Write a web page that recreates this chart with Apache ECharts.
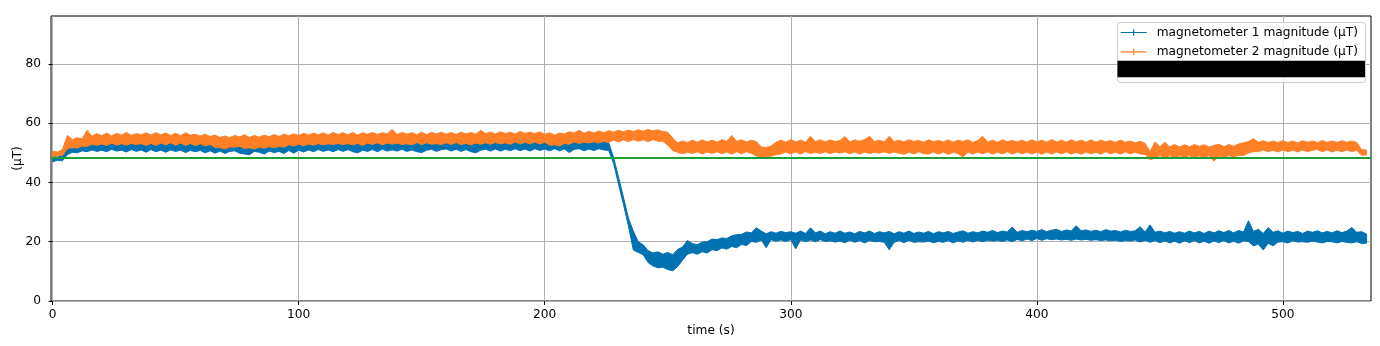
<!DOCTYPE html>
<html>
<head>
<meta charset="utf-8">
<script src="https://cdn.jsdelivr.net/npm/echarts@6/dist/echarts.min.js"></script>
<style>
html,body{margin:0;padding:0;background:#fff;}
#chart{width:1380px;height:346px;}
</style>
</head>
<body>
<div id="chart"></div>
<script>
// ---- data: noise envelopes (upper / lower) of each magnitude trace, every 2 s ----
const timeS = [
0,2,4,6,8,10,12,14,16,18,20,22,24,26,28,30,32,34,36,38,
40,42,44,46,48,50,52,54,56,58,60,62,64,66,68,70,72,74,76,78,
80,82,84,86,88,90,92,94,96,98,100,102,104,106,108,110,112,114,116,118,
120,122,124,126,128,130,132,134,136,138,140,142,144,146,148,150,152,154,156,158,
160,162,164,166,168,170,172,174,176,178,180,182,184,186,188,190,192,194,196,198,
200,202,204,206,208,210,212,214,216,218,220,222,224,226,228,230,232,234,236,238,
240,242,244,246,248,250,252,254,256,258,260,262,264,266,268,270,272,274,276,278,
280,282,284,286,288,290,292,294,296,298,300,302,304,306,308,310,312,314,316,318,
320,322,324,326,328,330,332,334,336,338,340,342,344,346,348,350,352,354,356,358,
360,362,364,366,368,370,372,374,376,378,380,382,384,386,388,390,392,394,396,398,
400,402,404,406,408,410,412,414,416,418,420,422,424,426,428,430,432,434,436,438,
440,442,444,446,448,450,452,454,456,458,460,462,464,466,468,470,472,474,476,478,
480,482,484,486,488,490,492,494,496,498,500,502,504,506,508,510,512,514,516,518,
520,522,524,526,528,530,532,534
];

const mag1High = [
48.9,48.6,49.4,51.6,51.4,52.5,52.2,53.2,53.0,53.8,
53.1,53.9,53.2,53.7,53.0,54.0,53.4,53.1,53.9,53.5,
53.8,53.1,53.6,53.0,53.9,53.3,53.7,52.9,53.5,53.2,
53.4,52.8,53.5,52.7,53.3,52.9,53.6,52.8,53.2,53.5,
52.7,53.4,52.9,53.5,53.0,53.6,52.8,53.7,53.2,53.8,
53.1,53.9,53.3,53.7,54.0,53.2,53.8,53.4,54.1,53.3,
53.9,53.2,54.0,53.4,53.7,54.1,53.3,53.9,53.5,54.2,
53.4,54.1,53.5,53.9,53.3,54.0,53.6,54.2,53.4,53.9,
53.6,54.2,53.4,54.0,53.7,54.1,53.5,54.2,53.8,53.4,
54.2,53.6,54.3,53.8,54.1,53.5,54.4,53.9,54.2,53.7,
54.5,53.8,54.3,53.7,54.2,53.6,54.3,53.9,54.4,53.8,
54.1,53.7,54.2,53.4,48.4,41.8,35.0,28.0,23.6,20.0,
19.0,17.0,16.2,16.6,15.8,16.4,15.6,17.4,18.2,20.4,
19.4,19.0,19.9,20.0,20.9,20.7,21.3,21.1,22.0,22.4,
22.5,23.3,23.0,24.7,23.6,22.7,23.4,22.9,23.5,23.1,
23.4,22.9,23.6,22.8,24.7,23.0,23.6,22.7,23.4,22.9,
23.6,22.9,23.3,22.7,23.5,23.0,23.6,22.8,23.4,23.0,
23.5,22.7,23.4,22.9,23.6,22.8,23.3,22.9,23.5,22.7,
23.4,23.0,23.5,22.8,23.3,23.7,22.9,23.4,23.0,23.6,
23.2,23.8,23.1,23.6,23.3,25.0,23.2,23.8,23.4,23.9,
23.5,24.1,23.4,23.9,24.2,23.5,24.0,23.6,25.4,23.7,
24.0,23.5,23.9,23.4,24.1,23.6,23.8,23.3,23.9,23.5,
23.7,25.1,23.3,25.7,23.2,23.6,23.0,23.5,22.9,23.4,
22.9,23.6,23.0,23.5,22.8,23.6,23.0,23.7,23.1,23.8,
23.0,23.8,23.3,27.1,23.5,24.2,22.8,24.8,23.2,23.7,
22.9,23.6,23.1,23.5,22.8,23.6,23.2,23.7,23.0,23.5,
23.0,23.7,23.1,23.6,24.8,23.2,23.4,22.6
];
const mag1Low = [
47.0,47.5,47.3,49.4,50.2,50.0,50.7,50.4,51.0,50.5,
50.9,50.4,51.2,50.6,50.9,50.3,51.1,50.5,51.0,50.2,
51.1,50.4,50.9,50.2,51.0,50.5,50.9,50.1,50.8,50.4,
50.8,50.0,50.7,49.9,50.6,49.8,50.5,50.7,49.9,49.6,
49.4,50.5,50.2,49.6,50.6,50.1,50.5,49.8,50.8,49.9,
50.9,50.3,51.0,50.4,51.1,50.5,51.0,50.4,51.1,50.5,
51.1,50.4,50.0,50.9,50.5,51.1,50.4,51.2,50.6,51.0,
50.6,51.2,50.5,51.0,50.4,50.1,50.9,51.2,50.5,51.1,
51.3,50.6,51.2,50.5,51.1,50.4,50.0,50.9,51.2,50.6,
51.3,50.6,51.2,50.7,51.4,50.7,51.3,50.6,51.4,50.8,
51.3,50.7,51.4,50.7,51.3,50.1,51.2,51.4,50.7,51.3,
50.8,51.4,51.0,50.8,46.4,39.4,32.6,25.4,17.2,16.4,
15.6,13.0,11.8,11.2,11.4,10.6,10.2,11.6,13.8,15.8,
16.3,15.8,16.6,16.2,17.3,17.0,17.9,17.5,18.4,18.0,
19.1,18.7,20.1,19.8,20.6,18.0,20.7,20.2,20.6,20.1,
20.7,17.6,20.6,20.0,20.6,20.0,20.7,20.1,20.3,19.9,
20.2,19.7,20.5,19.8,20.4,19.6,20.4,20.0,20.1,19.8,
17.3,19.8,20.4,19.7,20.5,19.8,20.0,19.9,20.2,19.7,
20.1,19.8,20.4,19.6,20.3,19.8,20.5,19.9,20.5,20.0,
20.5,20.2,20.4,20.1,20.6,20.0,20.8,20.3,20.9,20.4,
21.1,20.5,21.0,20.7,20.9,20.6,20.8,20.5,20.9,20.6,
20.8,20.5,20.7,20.4,20.6,20.3,20.5,20.1,20.4,20.2,
20.6,19.9,20.5,19.8,20.4,19.7,20.3,19.6,20.2,19.5,
20.3,19.7,20.4,19.6,20.2,19.5,20.3,19.7,20.4,19.6,
20.2,19.5,20.3,20.1,18.6,19.2,17.2,19.5,18.6,19.9,
20.0,19.6,20.3,19.9,20.0,19.8,20.2,19.9,19.6,20.1,
20.0,19.6,20.1,19.8,19.6,20.0,19.4,19.5
];

const mag2High = [
50.5,50.3,51.1,55.9,54.5,55.1,54.7,57.6,55.6,56.5,
55.8,56.7,55.7,56.6,56.0,56.9,55.9,56.5,56.1,56.8,
56.0,56.8,56.1,56.7,55.9,56.6,55.8,56.8,56.0,56.3,
55.7,56.3,55.5,56.0,55.2,55.7,55.1,55.9,55.4,56.1,
55.2,55.9,55.3,56.0,55.4,56.2,55.5,56.3,55.8,56.4,
55.9,56.6,56.0,56.7,56.1,56.8,56.0,56.9,56.2,56.8,
56.1,56.9,56.0,56.8,56.3,56.9,56.2,56.8,56.4,57.9,
56.2,56.9,56.3,56.8,56.1,57.0,56.2,56.9,56.4,57.0,
56.3,56.9,56.2,57.0,56.4,56.9,56.3,57.6,56.5,57.0,
56.4,57.1,56.5,57.0,56.4,57.2,56.6,57.0,56.5,57.1,
56.3,56.8,56.0,56.7,56.4,57.1,56.7,57.6,56.6,57.3,
56.7,57.4,56.8,57.5,57.0,57.6,57.1,57.7,57.2,57.8,
57.3,57.9,57.4,57.8,57.2,57.0,55.0,53.4,54.0,53.5,
54.3,53.6,54.4,53.7,54.3,53.6,54.5,53.8,55.9,53.9,
54.4,53.7,54.3,53.8,52.0,51.8,52.3,53.6,54.3,53.6,
54.5,53.7,54.3,53.6,55.6,53.8,54.4,53.7,54.4,53.8,
54.2,55.5,53.7,54.4,53.9,54.5,55.6,53.8,54.3,53.7,
55.6,53.8,54.3,53.7,54.4,53.9,54.2,53.6,54.4,53.8,
54.2,53.7,54.4,53.6,54.3,53.8,54.4,53.5,54.2,55.6,
53.6,54.3,53.6,54.4,53.8,54.2,53.7,54.3,53.6,54.4,
53.7,54.3,53.6,54.5,53.7,54.3,53.6,54.4,53.7,54.3,
53.6,54.4,53.6,54.3,53.7,54.2,53.5,54.3,53.6,54.0,
53.4,53.9,53.2,50.4,53.7,52.0,53.6,52.0,52.8,52.0,
52.7,52.1,52.8,52.2,52.7,52.0,52.5,52.9,52.1,52.8,
52.2,53.0,53.4,53.8,54.8,53.6,54.1,53.5,54.0,53.5,
54.1,53.5,54.0,53.4,54.1,53.6,54.0,53.5,54.1,53.6,
54.0,53.5,54.1,53.6,54.0,53.5,51.1,50.9
];
const mag2Low = [
48.7,49.2,49.1,51.4,51.9,51.6,52.3,52.2,52.9,52.6,
53.0,52.5,53.3,52.6,53.1,52.6,53.2,52.8,53.1,52.5,
53.2,52.5,53.3,52.7,53.4,52.6,53.3,52.5,53.2,52.4,
53.1,52.3,52.9,51.8,51.8,51.3,52.0,51.9,52.2,51.5,
51.7,51.3,51.9,51.6,52.1,51.7,52.2,51.9,52.7,52.3,
52.9,52.4,53.0,52.6,53.1,52.7,53.1,52.8,53.2,52.8,
53.1,52.7,53.2,52.5,53.3,52.8,53.4,52.7,53.3,52.9,
53.3,52.8,53.1,52.7,53.5,52.8,53.4,52.9,53.1,52.8,
53.4,52.8,53.5,52.8,53.2,52.7,53.3,52.9,53.4,52.9,
53.5,53.0,53.4,52.9,53.7,53.0,53.6,53.0,53.7,53.0,
53.6,52.6,52.7,52.3,53.2,52.9,53.7,53.2,53.6,53.3,
53.8,53.3,53.9,53.5,54.3,53.7,54.4,53.8,54.5,53.9,
54.4,53.8,54.5,53.9,53.9,52.6,50.8,50.2,49.7,50.2,
49.8,50.4,49.6,50.3,49.8,50.4,49.7,50.3,49.6,50.4,
49.7,50.4,49.8,49.0,48.6,48.8,48.9,49.4,49.6,50.3,
49.7,50.3,49.6,50.4,49.8,50.2,49.8,50.4,49.7,50.3,
49.9,50.4,49.7,50.3,49.6,50.3,49.8,50.2,49.9,50.4,
49.8,50.3,49.9,49.5,50.3,49.6,50.4,49.7,49.6,50.3,
49.6,50.3,49.5,50.2,49.7,48.6,50.3,49.6,50.3,49.7,
50.3,49.6,50.2,49.7,50.4,49.6,50.3,49.7,50.3,49.6,
50.3,49.5,50.3,49.6,50.3,49.7,50.3,49.6,50.2,49.5,
50.3,49.7,50.2,49.6,50.4,49.7,50.2,49.6,50.3,49.7,
50.2,49.6,49.5,47.7,48.2,49.1,48.4,49.1,48.4,49.0,
48.5,49.1,48.4,49.0,48.5,49.1,47.2,49.0,48.5,49.1,
48.6,49.2,49.1,50.0,50.4,50.4,51.0,50.4,50.9,50.3,
51.0,50.4,50.9,50.3,51.0,50.4,50.9,51.1,50.4,51.0,
50.3,50.9,50.4,51.0,50.4,50.9,49.2,49.3
];

const referenceLevel = 48.2;            // green horizontal reference (µT)
const xTicks = [0, 100, 200, 300, 400, 500];
const yTicks = [0, 20, 40, 60, 80];
const xRange = [-0.65, 535.8];
const yRange = [0, 96.2];
const seriesNames = ['magnetometer 1 magnitude (\u03bcT)', 'magnetometer 2 magnitude (\u03bcT)'];

// ---- chart ----
const FONT = 'DejaVu Sans';
[mag1High, mag1Low, mag2High, mag2Low].forEach((a, k) => {
  if (a.length !== timeS.length) console.error('length mismatch', k, a.length, timeS.length);
});

function bandSeries(name, high, low, color, z) {
  return {
    type: 'custom', name: name, z: z, silent: true, clip: true,
    color: color, itemStyle: {color: color},
    data: [[timeS[0], low[0]]],
    renderItem: function (params, api) {
      const pts = [];
      for (let i = 0; i < timeS.length; i++) pts.push(api.coord([timeS[i], high[i]]));
      for (let i = timeS.length - 1; i >= 0; i--) pts.push(api.coord([timeS[i], low[i]]));
      return {type: 'polygon', shape: {points: pts},
              style: {fill: color, stroke: color, lineWidth: 1, lineJoin: 'miter'}};
    }
  };
}

const chart = echarts.init(document.getElementById('chart'), null, {renderer: 'canvas'});
const legendIcon = 'path://M0,2.6h26v1.2h-26zM12.4,0h1.2v6.4h-1.2z';
const C1 = '#0072b2', C2 = '#ff7f27', C3 = '#1f9e35';

chart.setOption({
  animation: false,
  backgroundColor: '#ffffff',
  textStyle: {fontFamily: FONT},
  grid: {left: 51, right: 9, top: 16, bottom: 45, show: true, borderColor: '#000', borderWidth: 1, backgroundColor: 'transparent'},
  xAxis: {
    type: 'value', min: xRange[0], max: xRange[1],
    name: 'time (s)', nameLocation: 'middle', nameGap: 24, nameMoveOverlap: false,
    nameTextStyle: {color: '#000', fontSize: 12.2, fontFamily: FONT},
    axisLine: {show: false},
    axisTick: {show: true, length: 4, lineStyle: {color: '#000', width: 1}, customValues: xTicks},
    axisLabel: {color: '#000', fontSize: 12.2, fontFamily: FONT, margin: 8, customValues: xTicks},
    splitLine: {show: true, lineStyle: {color: '#b0b0b0', width: 1}}
  },
  yAxis: {
    type: 'value', min: yRange[0], max: yRange[1],
    name: '(\u03bcT)', nameLocation: 'middle', nameGap: 27, nameRotate: 90, nameMoveOverlap: false,
    nameTextStyle: {color: '#000', fontSize: 12.2, fontFamily: FONT},
    axisLine: {show: false},
    axisTick: {show: true, length: 4, lineStyle: {color: '#000', width: 1}, customValues: yTicks},
    axisLabel: {color: '#000', fontSize: 12.2, fontFamily: FONT, margin: 10, customValues: yTicks},
    splitLine: {show: true, lineStyle: {color: '#b0b0b0', width: 1}}
  },
  legend: {
    orient: 'vertical', left: 1120.7, top: 25.5, z: 20, padding: 0,
    data: seriesNames, icon: legendIcon,
    itemWidth: 26, itemHeight: 6.4, itemGap: 5.3,
    selectedMode: false,
    textStyle: {color: '#000', fontSize: 12.2, fontFamily: FONT, lineHeight: 14, padding: [0, 0, 0, 5]}
  },
  graphic: [
    {type: 'rect', z: 15, shape: {x: 1117.5, y: 22.5, width: 248, height: 60, r: 3},
     style: {fill: 'rgba(255,255,255,0.8)', stroke: '#cccccc', lineWidth: 1}},
    {type: 'rect', z: 30, shape: {x: 1117.5, y: 60.7, width: 247.5, height: 16.6},
     style: {fill: '#000000'}}
  ],
  series: [
    bandSeries(seriesNames[0], mag1High, mag1Low, C1, 2),
    bandSeries(seriesNames[1], mag2High, mag2Low, C2, 3),
    {name: 'reference', type: 'line', data: [], z: 4, silent: true,
     markLine: {silent: true, symbol: 'none', label: {show: false},
       lineStyle: {color: C3, width: 1.8, type: 'solid'},
       data: [{yAxis: referenceLevel}]}}
  ]
});
</script>
</body>
</html>
